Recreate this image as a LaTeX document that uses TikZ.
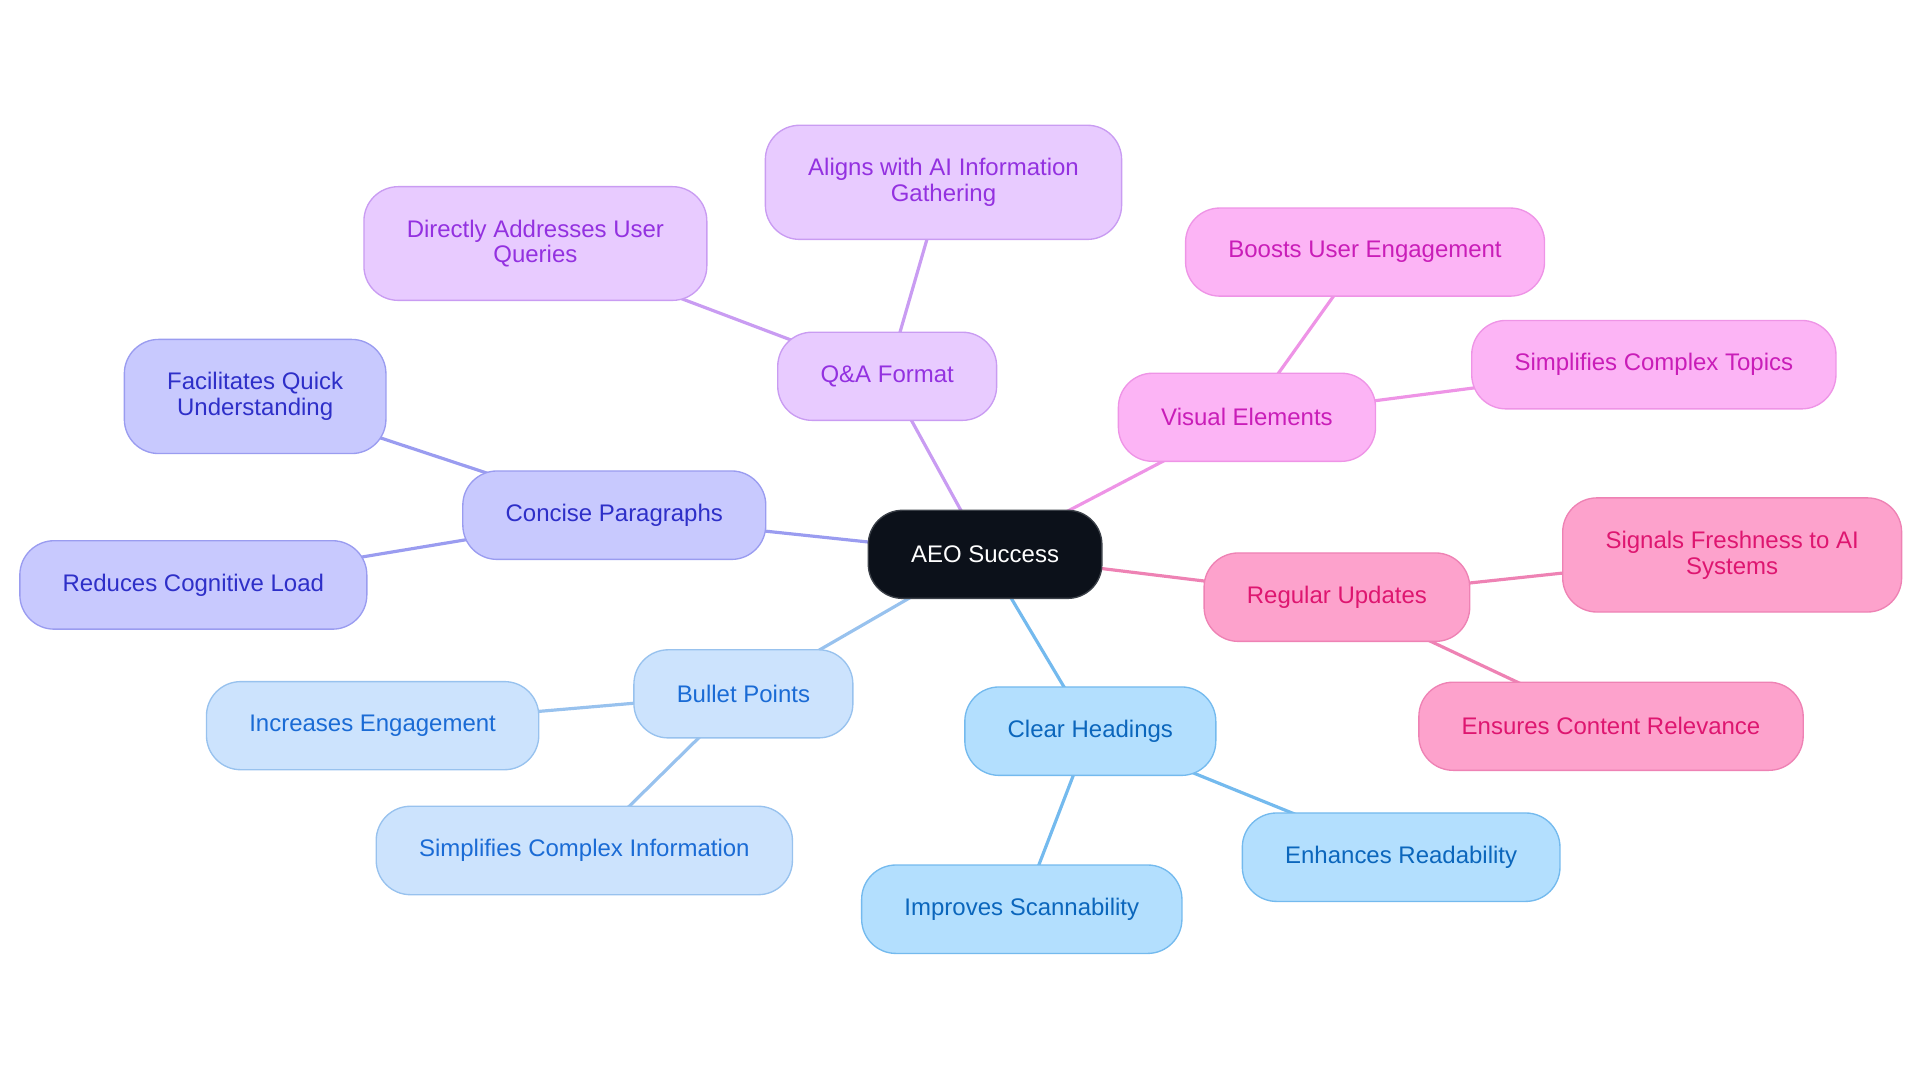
\documentclass[tikz,border=0pt]{standalone}
\usepackage{fontspec}
\setmainfont{Liberation Sans}
\usepackage{xcolor}
\usetikzlibrary{positioning,backgrounds}

\definecolor{rootfill}{HTML}{0C111A}
\definecolor{rootline}{HTML}{3B4048}
\definecolor{qafill}{HTML}{E8CBFF}
\definecolor{qaline}{HTML}{C99CF2}
\definecolor{qatext}{HTML}{9331E0}
\definecolor{visfill}{HTML}{FCB4F5}
\definecolor{visline}{HTML}{EE94E6}
\definecolor{vistext}{HTML}{C91DB8}
\definecolor{updfill}{HTML}{FDA2CC}
\definecolor{updline}{HTML}{EE82B4}
\definecolor{updtext}{HTML}{DE1670}
\definecolor{headfill}{HTML}{B3DFFE}
\definecolor{headline}{HTML}{74BAEE}
\definecolor{headtext}{HTML}{0B66BC}
\definecolor{bulfill}{HTML}{CCE3FD}
\definecolor{bulline}{HTML}{98C2EE}
\definecolor{bultext}{HTML}{1A6BD5}
\definecolor{parfill}{HTML}{C8C9FE}
\definecolor{parline}{HTML}{9A9CF0}
\definecolor{partext}{HTML}{2E2FC8}

\tikzset{
  topic/.style={draw, rounded corners=28pt, align=center, inner xsep=35pt,
    inner ysep=27pt, minimum height=72pt, line width=1.1pt,
    font=\fontsize{19.6}{21}\selectfont},
  root/.style={topic, fill=rootfill, draw=rootline, text=white},
  qa/.style={topic, fill=qafill, draw=qaline, text=qatext},
  vis/.style={topic, fill=visfill, draw=visline, text=vistext},
  upd/.style={topic, fill=updfill, draw=updline, text=updtext},
  head/.style={topic, fill=headfill, draw=headline, text=headtext},
  bul/.style={topic, fill=bulfill, draw=bulline, text=bultext},
  par/.style={topic, fill=parfill, draw=parline, text=partext},
  link/.style={line width=2.6pt}
}

\begin{document}
\begin{tikzpicture}[on grid]
   \useasboundingbox (0pt,0pt) rectangle (1569pt,-885pt);
   \node[root] (aeo) at (805pt,-453pt) {AEO Success};
   % main branches
   \node[qa]   (q_qa)   [above left=145.5pt and 80pt of aeo]   {Q\&A Format};
   \node[vis]  (q_vis)  [above right=112pt and 214pt of aeo]   {Visual Elements};
   \node[upd]  (q_upd)  [below right=35pt and 287.5pt of aeo]  {Regular Updates};
   \node[head] (q_head) [below right=144.5pt and 86pt of aeo]  {Clear Headings};
   \node[bul]  (q_bul)  [below left=114pt and 197.5pt of aeo]  {Bullet Points};
   \node[par]  (q_par)  [above left=32pt and 303pt of aeo]     {Concise Paragraphs};
   % leaves
   \node[qa]   (q_align)  [above right=158.5pt and 46pt of q_qa]  {Aligns with AI Information\\Gathering};
   \node[qa]   (q_direct) [above left=108.5pt and 287.5pt of q_qa] {Directly Addresses User\\Queries};
   \node[vis]  (q_boost)  [above right=135pt and 96.5pt of q_vis]  {Boosts User Engagement};
   \node[vis]  (q_topic)  [above right=43pt and 332.5pt of q_vis]  {Simplifies Complex Topics};
   \node[upd]  (q_fresh)  [above right=34.5pt and 323pt of q_upd] {Signals Freshness to AI\\Systems};
   \node[upd]  (q_relev)  [below right=105.5pt and 224pt of q_upd] {Ensures Content Relevance};
   \node[head] (q_read)   [below right=103pt and 254pt of q_head]  {Enhances Readability};
   \node[head] (q_scan)   [below left=145.5pt and 56pt of q_head]  {Improves Scannability};
   \node[bul]  (q_incr)   [below left=26pt and 303pt of q_bul]     {Increases Engagement};
   \node[bul]  (q_info)   [below left=128pt and 130pt of q_bul]    {Simplifies Complex Information};
   \node[par]  (q_quick)  [above left=97pt and 293.5pt of q_par]   {Facilitates Quick\\Understanding};
   \node[par]  (q_load)   [below left=57pt and 344pt of q_par]     {Reduces Cognitive Load};

   \begin{scope}[on background layer]
    \draw[link, qaline]   (aeo.center) -- (q_qa.center)
                          (q_qa.center) -- (q_align.center)
                          (q_qa.center) -- (q_direct.center);
    \draw[link, visline]  (aeo.center) -- (q_vis.center)
                          (q_vis.center) -- (q_boost.center)
                          (q_vis.center) -- (q_topic.center);
    \draw[link, updline]  (aeo.center) -- (q_upd.center)
                          (q_upd.center) -- (q_fresh.center)
                          (q_upd.center) -- (q_relev.center);
    \draw[link, headline] (aeo.center) -- (q_head.center)
                          (q_head.center) -- (q_read.center)
                          (q_head.center) -- (q_scan.center);
    \draw[link, bulline]  (aeo.center) -- (q_bul.center)
                          (q_bul.center) -- (q_incr.center)
                          (q_bul.center) -- (q_info.center);
    \draw[link, parline]  (aeo.center) -- (q_par.center)
                          (q_par.center) -- (q_quick.center)
                          (q_par.center) -- (q_load.center);
   \end{scope}
\end{tikzpicture}
\end{document}
